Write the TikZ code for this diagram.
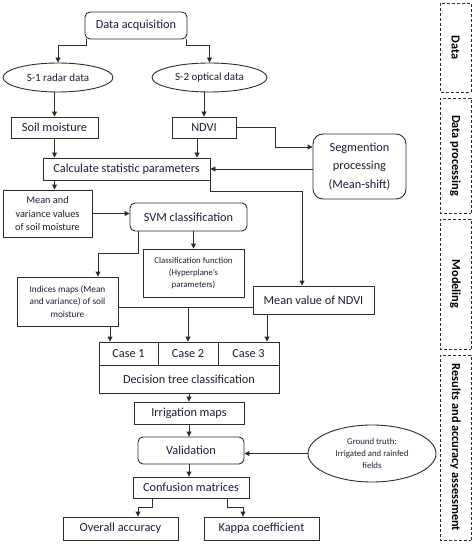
\documentclass[tikz,border=0pt]{standalone}
\usepackage{fontspec}
\setmainfont{Carlito}
\usetikzlibrary{arrows.meta,shapes.geometric,calc}
\definecolor{ink}{RGB}{30,30,55}
\definecolor{ln}{RGB}{45,45,45}
\newcommand\fmain{\fontsize{12.3}{18.5}\selectfont}
\newcommand\fmid{\fontsize{10.3}{13.5}\selectfont}
\newcommand\fsmall{\fontsize{8.8}{12}\selectfont}
\begin{document}
\begin{tikzpicture}[x=1pt,y=-1pt,
  every node/.style={text=ink, inner sep=1pt, align=center},
  bx/.style={draw=ln, line width=0.9pt, font=\fmain},
  rbx/.style={bx, rounded corners=5pt},
  ell/.style={draw=ln, line width=0.9pt, ellipse, inner sep=0pt},
  arr/.style={draw=ln, line width=0.9pt, -{Triangle[length=5pt,width=5pt]}},
  ln/.style={draw=ln, line width=0.9pt},
  side/.style={draw=ln, line width=0.9pt, dash pattern=on 3pt off 2pt, rotate=-90, font=\fmain\bfseries, minimum height=31pt, text=black}]
\useasboundingbox (0,0) rectangle (474,545);
\fill[white] (0,0) rectangle (474,545);

% side labels
\node[side, minimum width=89pt] (sdata) at (455.5,47.5) {Data};
\node[side, minimum width=115pt] (sproc) at (455.5,155.5) {Data processing};
\node[side, minimum width=130pt] (smod) at (455.5,284) {Modeling};
\node[side, minimum width=185pt] (sres) at (455.5,447.5) {Results and accuracy assessment};

% nodes
\node[rbx, minimum width=102pt, minimum height=27pt] (acq) at (136,25.5) {Data acquisition};
\node[ell, minimum width=110pt, minimum height=29pt, font=\fontsize{11}{13}\selectfont] (s1) at (58,77.5) {S-1 radar data};
\node[ell, minimum width=115pt, minimum height=29pt, font=\fontsize{11}{13}\selectfont] (s2) at (209.5,77.5) {S-2 optical data};
\node[bx, minimum width=87pt, minimum height=21pt] (soil) at (54.5,127.5) {Soil moisture};
\node[bx, minimum width=64pt, minimum height=21pt] (ndvi) at (204,127.5) {NDVI};
\node[bx, minimum width=167pt, minimum height=22pt] (calc) at (126.5,169) {Calculate statistic parameters};
\node[bx, rounded corners=10pt, minimum width=93pt, minimum height=65pt] (seg) at (359.5,166.5) {Segmention\\processing\\(Mean-shift)};
\node[bx, font=\fmid, minimum width=89pt, minimum height=47pt] (mv) at (47.5,213.5) {Mean and\\variance values\\of soil moisture};
\node[rbx, minimum width=117pt, minimum height=28pt] (svm) at (188.5,217) {SVM classification};
\node[bx, font=\fsmall, minimum width=101pt, minimum height=48pt] (cf) at (193.5,273) {Classification function\\(Hyperplane's\\parameters)};
\node[bx, font=\fontsize{9.3}{12.5}\selectfont, minimum width=101pt, minimum height=49pt] (idx) at (67.5,301.5) {Indices maps (Mean\\and variance) of soil\\moisture};
\node[bx, minimum width=121pt, minimum height=28pt] (mndvi) at (313.5,300) {Mean value of NDVI};
\node[bx, minimum width=59pt, minimum height=23pt] (case1) at (128.5,353.5) {Case 1};
\node[bx, minimum width=60pt, minimum height=23pt] (case2) at (188,353.5) {Case 2};
\node[bx, minimum width=61pt, minimum height=23pt] (case3) at (248.5,353.5) {Case 3};
\node[bx, minimum width=180pt, minimum height=28pt] (dt) at (189,379) {Decision tree classification};
\node[bx, minimum width=110pt, minimum height=22pt] (irr) at (189,413) {Irrigation maps};
\node[rbx, minimum width=106pt, minimum height=27pt] (val) at (191,450.5) {Validation};
\node[bx, minimum width=116pt, minimum height=21pt] (conf) at (191,487.5) {Confusion matrices};
\node[bx, minimum width=115pt, minimum height=23pt] (oa) at (120.5,528.5) {Overall accuracy};
\node[bx, minimum width=115pt, minimum height=23pt] (kappa) at (261.5,528.5) {Kappa coefficient};
\node[ell, font=\fsmall, minimum width=128pt, minimum height=57pt] (gt) at (372,453.5) {Ground truth:\\Irrigated and rainfed\\fields};

% connectors
\draw[arr] ([xshift=2pt]acq.south west) -- ++(0,6) -| (s1.north);
\draw[arr] ([xshift=-1pt]acq.south east) -- ++(0,6) -| (s2.north);
\draw[arr] (soil.north |- s1.south) -- (soil.north);
\draw[arr] (ndvi.north |- s2.south) -- (ndvi.north);
\draw[arr] (soil.south) -- (soil.south |- calc.north);
\draw[arr] ([xshift=-7pt]ndvi.south) -- ([xshift=-7pt]ndvi.south |- calc.north);
\draw[arr] (ndvi.east) -- ++(39,0) |- ([yshift=19.5pt]seg.west);
\draw[arr] (seg.west |- calc.east) -- (calc.east);
\draw[arr] (calc.south east) -- ++(0,11) -| ([xshift=-11.5pt]mndvi.north);
\draw[arr] (calc.south -| soil.south) -- (mv.north -| soil.south);
\draw[arr] (mv.east) -- (mv.east -| svm.west);
\draw[arr] (cf.north |- svm.south) -- (cf.north);
\draw[arr] ([xshift=-50.5pt]svm.south) -- ++(0,22) -| ([xshift=30.5pt]idx.north);
\draw[arr] ([xshift=42.5pt]idx.south) -- ([xshift=42.5pt]idx.south |- case1.north);
\coordinate (bus) at (188,307);
\draw[ln] (idx.east |- bus) -- (mndvi.west |- bus);
\draw[arr] (bus) -- (bus |- case2.north);
\draw[arr] ([xshift=-46.5pt]mndvi.south) -- ([xshift=-46.5pt]mndvi.south |- case3.north);
\draw[arr] (dt.south) -- (irr.north);
\draw[arr] (irr.south) -- (irr.south |- val.north);
\draw[arr] (irr.south |- val.south) -- (irr.south |- conf.north);
\draw[arr] (gt.west) -- (gt.west -| val.east);
\draw[arr] ([xshift=-39pt]conf.south) -- ++(0,9) -| ([xshift=17.5pt]oa.north);
\draw[arr] ([xshift=36pt]conf.south) -- ++(0,9) -| ([xshift=-18.5pt]kappa.north);
\end{tikzpicture}
\end{document}
